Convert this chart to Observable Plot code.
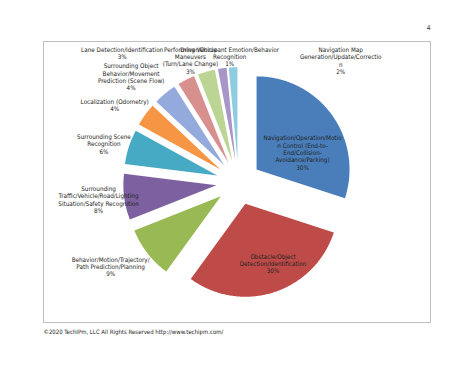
<!DOCTYPE html>
<html><head><meta charset="utf-8">
<script src="https://cdn.jsdelivr.net/npm/d3@7"></script>
<script src="https://cdn.jsdelivr.net/npm/@observablehq/plot@0.6"></script>
<style>body{margin:0;background:#fff}</style>
</head><body><div id="chart"></div>
<script>
// ---- data ----
const categories = [
  "Navigation/Operation/Motion Control (End-to-End/Collision-Avoidance/Parking)",
  "Obstacle/Object Detection/Identification",
  "Behavior/Motion/Trajectory/Path Prediction/Planning",
  "Surrounding Traffic/Vehicle/Road/Lighting Situation/Safety Recognition",
  "Surrounding Scene Recognition",
  "Localization (Odometry)",
  "Surrounding Object Behavior/Movement Prediction (Scene Flow)",
  "Lane Detection/Identification",
  "Performing Vehicle Maneuvers (Turn/Lane Change)",
  "Driver/Occupant Emotion/Behavior Recognition",
  "Navigation Map Generation/Update/Correction"
];
const values = [30, 30, 9, 8, 6, 4, 4, 3, 3, 1.5, 1.5];
const percentLabels = ["30%","30%","9%","8%","6%","4%","4%","3%","3%","1%","2%"];
const wrappedNames = [
  "Navigation/Operation/Motio\nn Control (End-to-\nEnd/Collision-\nAvoidance/Parking)",
  "Obstacle/Object\nDetection/Identification",
  "Behavior/Motion/Trajectory/\nPath Prediction/Planning",
  "Surrounding\nTraffic/Vehicle/Road/Lighting\nSituation/Safety Recognition",
  "Surrounding Scene\nRecognition",
  "Localization (Odometry)",
  "Surrounding Object\nBehavior/Movement\nPrediction (Scene Flow)",
  "Lane Detection/Identification",
  "Performing Vehicle\nManeuvers\n(Turn/Lane Change)",
  "Driver/Occupant Emotion/Behavior\nRecognition",
  "Navigation Map\nGeneration/Update/Correctio\nn"
];
const colors = ["#4A7EBB","#BE4B48","#98B954","#7D60A0","#46AAC5","#F69544",
                "#94A9DC","#D8908F","#BCD594","#A796C7","#8FCCE0"];
const footer = "©2020 TechIPm, LLC All Rights Reserved http://www.techipm.com/";
const pageNumber = "4";

// ---- layout (polar placement of labels, explode) ----
const explode = 0.24;
const labelAngle = [65, 157, 236.7, 263, 286, 302, 314.5, 318, 338.5, 356, 40];
const labelDist  = [0.76, 0.95, 1.645, 1.516, 1.505, 1.57, 1.62, 1.87, 1.41, 1.355, 1.71];

const arcs = d3.pie().sort(null).value(d => d)(values);
const slicePts = [];
arcs.forEach((a, i) => {
  const mid = (a.startAngle + a.endAngle) / 2;
  const ox = explode * Math.sin(mid), oy = -explode * Math.cos(mid);
  const k = categories[i];
  slicePts.push({k, x: ox, y: oy});
  const n = Math.max(4, Math.ceil((a.endAngle - a.startAngle) / 0.01));
  for (let j = 0; j <= n; j++) {
    const t = a.startAngle + (a.endAngle - a.startAngle) * j / n;
    slicePts.push({k, x: ox + Math.sin(t), y: oy - Math.cos(t)});
  }
  slicePts.push({k, x: ox, y: oy});
});
const labels = categories.map((k, i) => {
  const t = labelAngle[i] * Math.PI / 180;
  return {k, text: wrappedNames[i] + "\n" + percentLabels[i],
          x: labelDist[i] * Math.sin(t), y: -labelDist[i] * Math.cos(t)};
});

const chart = Plot.plot({
  width: 474, height: 366,
  marginLeft: 43, marginRight: 44, marginTop: 41, marginBottom: 44,
  x: {domain: [-2.097, 2.065], axis: null},
  y: {domain: [-1.516, 1.505], reverse: true, axis: null},
  color: {domain: categories, range: colors},
  style: {fontFamily: "'Liberation Sans Narrow','Arial Narrow','DejaVu Sans Condensed',sans-serif", fontSize: "6.3px", background: "#fff"},
  marks: [
    Plot.frame({stroke: "#BFBFBF", strokeWidth: 1}),
    Plot.line(slicePts, {x: "x", y: "y", z: "k", fill: "k", stroke: null}),
    Plot.text(labels, {x: "x", y: "y", text: "text", fill: "#222", lineAnchor: "middle", textAnchor: "middle", lineHeight: 1.16}),
    Plot.text([footer], {frameAnchor: "bottom-left", dy: 11, textAnchor: "start", fontSize: 6.0, fill: "#222"}),
    Plot.text([pageNumber], {frameAnchor: "top-right", dy: -16, dx: 0, fontSize: 6.5, fill: "#333"})
  ]
});
document.getElementById("chart").append(chart);
</script>
</body></html>
